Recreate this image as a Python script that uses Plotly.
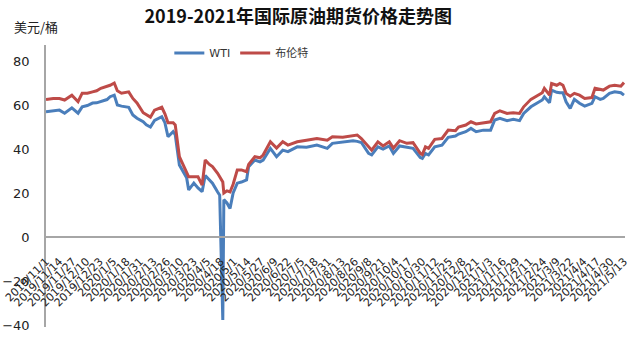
import plotly.graph_objects as go

dates = [
    "2019-11-01", "2019-11-08", "2019-11-14", "2019-11-19", "2019-11-26", "2019-12-02",
    "2019-12-06", "2019-12-11", "2019-12-16", "2019-12-20", "2019-12-24", "2019-12-30",
    "2020-01-02", "2020-01-06", "2020-01-09", "2020-01-13", "2020-01-20", "2020-01-24",
    "2020-01-28", "2020-02-03", "2020-02-06", "2020-02-10", "2020-02-14", "2020-02-21",
    "2020-02-24", "2020-02-27", "2020-03-03", "2020-03-05", "2020-03-09", "2020-03-12",
    "2020-03-16", "2020-03-18", "2020-03-23", "2020-03-27", "2020-03-31", "2020-04-03",
    "2020-04-07", "2020-04-10", "2020-04-15", "2020-04-17", "2020-04-20", "2020-04-21",
    "2020-04-24", "2020-04-27", "2020-04-30", "2020-05-04", "2020-05-08", "2020-05-13",
    "2020-05-15", "2020-05-21", "2020-05-26", "2020-05-29", "2020-06-05", "2020-06-11",
    "2020-06-17", "2020-06-22", "2020-07-01", "2020-07-10", "2020-07-20", "2020-07-30",
    "2020-08-04", "2020-08-14", "2020-08-24", "2020-08-28", "2020-09-01", "2020-09-08",
    "2020-09-11", "2020-09-17", "2020-09-22", "2020-09-28", "2020-10-02", "2020-10-08",
    "2020-10-15", "2020-10-21", "2020-10-28", "2020-10-30", "2020-11-02", "2020-11-05",
    "2020-11-11", "2020-11-18", "2020-11-24", "2020-12-01", "2020-12-04", "2020-12-11",
    "2020-12-16", "2020-12-21", "2020-12-28", "2021-01-04", "2021-01-08", "2021-01-13",
    "2021-01-20", "2021-01-26", "2021-02-01", "2021-02-05", "2021-02-12", "2021-02-17",
    "2021-02-23", "2021-02-25", "2021-03-02", "2021-03-04", "2021-03-09", "2021-03-12",
    "2021-03-15", "2021-03-18", "2021-03-22", "2021-03-26", "2021-03-31", "2021-04-05",
    "2021-04-12", "2021-04-15", "2021-04-20", "2021-04-23", "2021-04-29", "2021-05-04",
    "2021-05-10", "2021-05-13",
]

wti = [
    57.0, 57.5, 57.7, 56.3, 58.7, 56.3,
    59.2, 59.8, 60.9, 61.0, 61.5, 62.5,
    63.8, 64.5, 60.0, 59.5, 59.0, 55.5,
    54.0, 52.4, 51.0, 50.0, 53.0, 54.7,
    52.0, 45.6, 47.9, 46.5, 32.7, 30.5,
    27.0, 21.4, 24.5, 22.3, 20.6, 28.0,
    26.0, 24.5, 20.5, 19.0, -37.7, 17.0,
    15.5, 13.0, 20.0, 24.5, 25.0, 26.0,
    32.0, 35.0, 34.2, 35.0, 40.3, 36.5,
    39.5, 38.8, 41.0, 40.8, 41.8, 40.3,
    42.6, 43.3, 43.8, 43.5, 43.0, 38.0,
    37.3, 41.0, 40.0, 41.4, 38.0, 41.4,
    40.8, 40.3, 36.2, 35.8, 38.0, 37.3,
    41.0, 41.8, 45.3, 45.9, 46.8, 47.9,
    49.4, 47.9, 48.6, 48.6, 53.2, 54.0,
    52.9, 53.5, 52.9, 56.2, 59.2, 60.5,
    62.3, 63.8, 61.0, 66.8, 65.8, 65.6,
    65.6, 61.5, 58.5, 62.6, 60.8, 59.5,
    60.8, 63.8, 62.6, 63.0, 65.3, 66.0,
    65.6, 64.5,
]

brent = [
    62.5, 63.0, 63.0, 62.3, 64.5, 61.5,
    65.4, 65.4, 66.0, 66.5, 67.6, 68.5,
    69.0, 70.0, 66.5, 65.4, 66.0, 63.0,
    61.0, 56.5, 55.5, 54.5, 57.7, 59.0,
    56.0, 52.0, 52.0, 51.0, 36.5, 33.6,
    30.0, 27.4, 27.4, 27.4, 23.6, 35.0,
    33.0, 32.0, 29.0, 27.4, 25.0, 20.0,
    21.0, 20.5, 24.0, 30.5, 30.5, 29.7,
    33.0, 36.5, 36.0, 37.3, 43.3, 40.4,
    43.3, 41.8, 43.3, 44.0, 44.8, 44.0,
    45.6, 45.4, 45.9, 46.4, 44.8, 41.0,
    39.5, 43.3, 41.4, 43.3, 40.4, 43.8,
    42.6, 42.9, 38.0, 37.5, 41.0, 40.3,
    44.4, 44.8, 48.6, 48.3, 50.0, 50.9,
    52.4, 51.4, 52.0, 52.4, 56.2, 57.4,
    56.2, 56.5, 56.2, 59.2, 62.6, 64.0,
    65.6, 67.6, 64.5, 69.8, 69.0, 69.8,
    69.0, 65.3, 64.0, 65.3, 64.5, 63.0,
    63.4, 67.6, 67.3, 66.8, 68.6, 69.0,
    68.6, 70.2,
]

series_names = ["WTI", "布伦特"]
colors = ["#4A7EBB", "#BE4B48"]

title_text = "2019-2021年国际原油期货价格走势图"
unit_text = "美元/桶"

y_min, y_max = -40.9, 87.3
x_start, x_end = "2019-11-01", "2021-05-14"

fig = go.Figure()
for name, vals, col in zip(series_names, [wti, brent], colors):
    fig.add_trace(go.Scatter(
        x=dates, y=vals, mode="lines", name=name,
        line=dict(color=col, width=3),
    ))

zero_pos = (0 - y_min) / (y_max - y_min)

fig.update_layout(
    width=640, height=340,
    margin=dict(l=46, r=15, t=45, b=13, autoexpand=False),
    paper_bgcolor="white", plot_bgcolor="white",
    font=dict(family="DejaVu Sans, Noto Sans CJK SC", color="#222"),
    title=dict(
        text=title_text, x=0.466, xref="container", xanchor="center",
        y=0.95, yref="container", yanchor="middle",
        font=dict(family="Noto Sans CJK SC", size=18, color="#111", weight="bold"),
    ),
    showlegend=True,
    legend=dict(
        orientation="h", x=0.213, xanchor="left", y=0.972, yanchor="middle",
        font=dict(family="DejaVu Sans, Noto Sans CJK SC", size=11, color="#333"),
        bgcolor="rgba(0,0,0,0)", itemwidth=30,
    ),
    xaxis=dict(
        type="date", range=[x_start, x_end], automargin=False,
        tick0="2019-11-01", dtick=13 * 86400000,
        tickformat="%Y/%-m/%-d", tickangle=-45,
        tickfont=dict(family="DejaVu Sans", size=11, color="#222"),
        anchor="free", position=zero_pos,
        showline=True, linecolor="#A6A6A6", linewidth=1.5,
        showgrid=False, zeroline=False, ticks="", ticklabelstandoff=13,
    ),
    yaxis=dict(
        range=[y_min, y_max], tick0=0, dtick=20, automargin=False,
        tickfont=dict(family="DejaVu Sans", size=13, color="#222"),
        showline=True, linecolor="#A6A6A6", linewidth=1.5,
        showgrid=False, zeroline=False, ticks="", ticklabelstandoff=12,
    ),
    annotations=[dict(
        text=unit_text, xref="paper", yref="paper",
        x=-0.058, y=1.067, xanchor="left", yanchor="middle",
        showarrow=False,
        font=dict(family="Noto Sans CJK SC", size=13, color="#222"),
    )],
)

fig.write_html("out.html")
